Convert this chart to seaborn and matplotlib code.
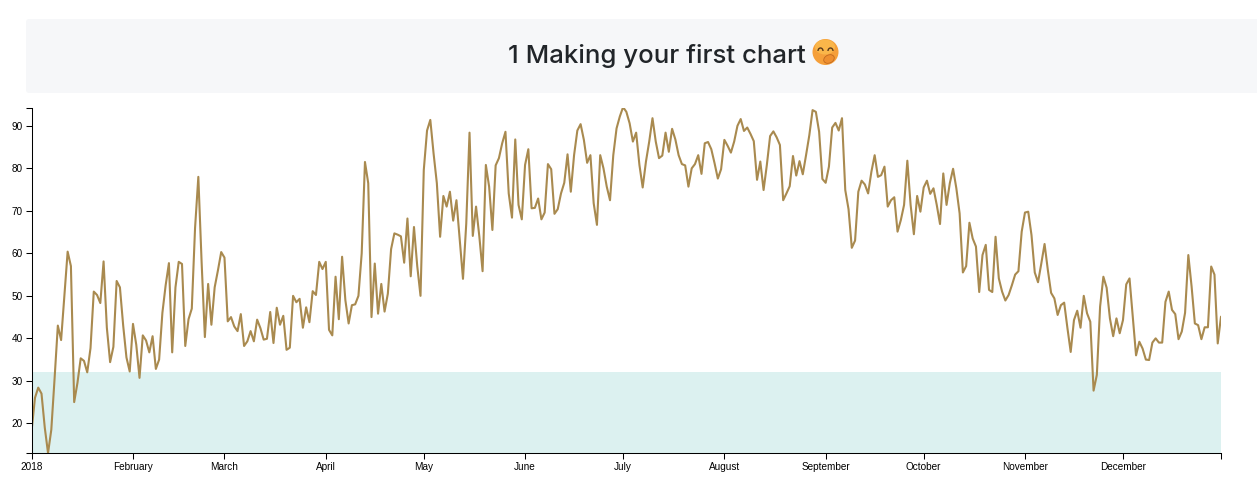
import numpy as np
import pandas as pd
import matplotlib
matplotlib.use('Agg')
import matplotlib.pyplot as plt
import seaborn as sns
from matplotlib.patches import Circle, Ellipse, Arc, FancyBboxPatch

# daily values
values = [
    18.5, 26, 28.4, 27, 19, 13, 18.5, 30.5, 43, 39.6, 50, 60.4, 57, 25, 29.5, 35.3, 34.7, 32, 37.7, 51,
    50.2, 48.3, 58.1, 42.5, 34.4, 38, 53.5, 52, 43, 35.5, 32.2, 43.4, 38.5, 30.7, 40.7, 39.5, 36.7, 40.5, 32.8, 35,
    46, 52.5, 57.7, 36.7, 52, 58, 57.5, 38.2, 44.5, 47, 66, 78, 58, 40.3, 52.8, 43.2, 52, 56, 60.3, 59,
    44, 45, 42.8, 41.7, 45.7, 38.2, 39.3, 41.7, 39.3, 44.4, 42.4, 39.7, 39.9, 46.2, 38.9, 47.2, 43.2, 45.3, 37.3, 37.8,
    50, 48.5, 49.3, 42.5, 47.3, 43.8, 51.1, 50.2, 58, 56.3, 58, 42, 40.7, 54.5, 44.5, 59.2, 49, 43.5, 47.8, 48,
    50, 60, 81.5, 76.5, 45, 57.6, 45.8, 52.8, 46.3, 50.5, 61, 64.7, 64.4, 64, 57.8, 68.2, 54.6, 66.2, 57, 50,
    79.6, 88.9, 91.4, 83.5, 76.5, 63.9, 73.5, 71, 74.5, 67.7, 72.5, 63.1, 54, 67, 88.4, 64.1, 71, 64, 55.8, 80.8,
    75.7, 65.5, 80.7, 82.4, 85.9, 88.6, 74.1, 68.4, 86.8, 71.4, 68, 80.8, 84.5, 70.6, 70.7, 72.9, 68, 69.6, 81, 79.8,
    69.3, 70.4, 74.1, 76.6, 83.3, 74.5, 83.1, 88.9, 90.4, 86.7, 81.3, 83.1, 71.8, 66.7, 83.1, 80, 75.7, 72.5, 83.1, 89.4,
    92.2, 94.4, 93.3, 90.6, 86.3, 88.4, 80.8, 75.5, 81.6, 86.3, 91.8, 86.3, 82.4, 83, 88.4, 83.9, 89.3, 86.8, 83.1, 81,
    80.7, 75.7, 80, 81, 83.1, 78.7, 85.9, 86.2, 84.5, 81.2, 77.6, 79.8, 86.7, 85.3, 83.7, 86.3, 90, 91.6, 88.8, 89.6,
    88.1, 86.4, 77.3, 81.6, 74.9, 80.8, 87.6, 88.7, 87.3, 85.5, 72.5, 74.1, 75.8, 82.9, 78.3, 81.7, 78.6, 83.1, 87.8, 93.7,
    93.3, 88.6, 77.5, 76.6, 80.4, 89.6, 90.7, 88.9, 91.8, 74.9, 70.4, 61.3, 63, 74.5, 77.1, 76.2, 74.1, 79.2, 83.1, 78,
    78.4, 80.4, 71, 72.5, 73.2, 65.1, 67.8, 71.4, 81.8, 71.4, 64.5, 73.5, 69.8, 75.5, 77.1, 74, 75.3, 71.4, 66.9, 78.8,
    71.4, 76.5, 79.9, 75.3, 69.4, 55.5, 57, 67.2, 63.5, 61.6, 50.9, 59.6, 62, 51.4, 50.9, 63.9, 54.1, 51, 48.9, 50.2,
    52.5, 55, 55.8, 65.1, 69.6, 69.8, 64.3, 55.5, 53.2, 57.6, 62.2, 56.1, 50.7, 49.4, 45.5, 47.8, 48.4, 42.4, 36.8, 44.3,
    46.5, 42.5, 50, 45.9, 43.9, 27.7, 31.4, 47.5, 54.5, 51.9, 44.7, 40.5, 44.7, 41.2, 44.3, 52.7, 54.1, 45, 36, 39.2,
    37.6, 35, 34.9, 39, 40, 39, 39, 48.6, 51, 46.7, 45.7, 39.8, 41.6, 46, 59.6, 52.2, 43.5, 43.1, 39.8, 42.6,
    42.6, 56.9, 55, 38.8, 45.1,
]
months = ['2018', 'February', 'March', 'April', 'May', 'June', 'July', 'August',
          'September', 'October', 'November', 'December']
y_ticks = [20, 30, 40, 50, 60, 70, 80, 90]
threshold = 32
title = '1 Making your first chart'

dates = pd.date_range('2018-01-01', periods=len(values), freq='D')
df = pd.DataFrame({'date': dates, 'value': values})

sns.set_theme(style='white')
plt.rcParams['font.family'] = ['Liberation Sans', 'DejaVu Sans']

W, H = 1257, 490
fig = plt.figure(figsize=(W / 100, H / 100), dpi=100)

# header strip behind everything, coordinates in pixels
bg = fig.add_axes([0, 0, 1, 1], zorder=-1)
bg.set_xlim(0, W)
bg.set_ylim(H, 0)
bg.axis('off')
bg.add_patch(FancyBboxPatch((26, 19), 1240, 74, boxstyle='round,pad=0,rounding_size=3',
                            fc='#f6f7f9', ec='none'))
bg.text(507.5, 53, title, family='Inter', fontsize=18.55, fontweight=500, color='#212529',
        ha='left', va='center_baseline')

# no colour emoji font here, so the little face is drawn
bg.add_patch(Ellipse((825.5, 52), 26, 26, fc='#f59f3a', ec='none'))
bg.add_patch(Ellipse((825, 47), 20, 15, fc='#fab64a', ec='none'))
bg.add_patch(Arc((820.5, 51), 5, 6, theta1=180, theta2=360, ec='#5b3a1a', lw=1))
bg.add_patch(Arc((830.5, 51), 5, 6, theta1=180, theta2=360, ec='#5b3a1a', lw=1))
bg.add_patch(Ellipse((829, 59), 11, 8, angle=-25, fc='#ee8f30', ec='#b8611c', lw=0.5))

# main chart
ax = fig.add_axes([31.7 / W, (H - 453.3) / H, (1221 - 31.7) / W, (453.3 - 108) / H])
y_bottom, y_top = 12.95, 94.2
ax.axhspan(y_bottom, threshold, color='#dcf1f0', lw=0, zorder=1)
sns.lineplot(data=df, x='date', y='value', color='#a98a4f', linewidth=1.5, ax=ax, zorder=2)

ax.set_xlim(dates[0], dates[-1])
ax.set_ylim(y_bottom, y_top)

month_starts = pd.date_range('2018-01-01', periods=12, freq='MS')
ax.set_xticks(list(month_starts) + [dates[-1]])
ax.set_xticklabels(months + [''])
ax.set_yticks([y_bottom] + y_ticks + [y_top])
ax.set_yticklabels([''] + [str(v) for v in y_ticks] + [''])
ax.set_xlabel('')
ax.set_ylabel('')
ax.tick_params(axis='both', length=4.3, width=0.75, color='black', labelcolor='black',
               labelsize=7.2, pad=2.3, bottom=True, left=True)
ax.patch.set_visible(False)
sns.despine(ax=ax)
for side in ['left', 'bottom']:
    ax.spines[side].set_color('black')
    ax.spines[side].set_linewidth(0.75)

fig.savefig('out.png', dpi=100)
